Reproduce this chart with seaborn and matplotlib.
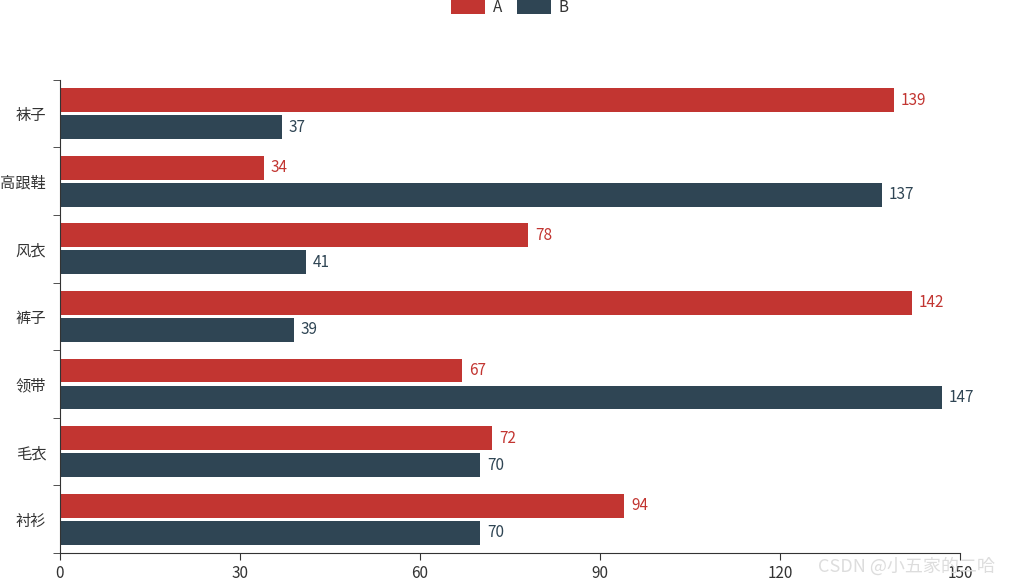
import pandas as pd
import seaborn as sns
import matplotlib.pyplot as plt
from matplotlib.ticker import FixedLocator

plt.rcParams["font.family"] = ["Noto Sans CJK JP", "Noto Sans CJK SC", "Noto Sans CJK TC",
                               "Noto Sans CJK KR", "DejaVu Sans"]

# Data
categories = ["袜子", "高跟鞋", "风衣", "裤子", "领带", "毛衣", "衬衫"]
series_a = [139, 34, 78, 142, 67, 72, 94]
series_b = [37, 137, 41, 39, 147, 70, 70]
colors = {"A": "#c23531", "B": "#2f4554"}

df = pd.DataFrame({
    "cat": categories * 2,
    "value": series_a + series_b,
    "series": ["A"] * len(categories) + ["B"] * len(categories),
})

fig = plt.figure(figsize=(10.1, 5.87), dpi=100)
ax = fig.add_axes([0.0594, 0.058, 0.8911, 0.806])

sns.barplot(data=df, y="cat", x="value", hue="series", order=categories,
            palette=colors, orient="h", width=0.8, gap=0.12, ax=ax,
            saturation=1, legend=True)

for cont, name in zip(ax.containers, ["A", "B"]):
    ax.bar_label(cont, padding=5, color=colors[name], fontsize=11)

ax.set_xlim(0, 150)
ax.set_xticks([0, 30, 60, 90, 120, 150])
ax.set_ylim(len(categories) - 0.5, -0.5)
ax.yaxis.set_minor_locator(FixedLocator([i - 0.5 for i in range(len(categories) + 1)]))
ax.tick_params(axis="y", which="major", length=0, labelsize=11, colors="#333333", pad=10)
ax.tick_params(axis="y", which="minor", length=5, color="#333333")
ax.tick_params(axis="x", length=5, color="#333333", labelsize=11, labelcolor="#333333")
ax.set_xlabel("")
ax.set_ylabel("")
for s in ["top", "right"]:
    ax.spines[s].set_visible(False)
for s in ["left", "bottom"]:
    ax.spines[s].set_color("#333333")

ax.legend(loc="upper center", bbox_to_anchor=(0.5, 1.2), ncol=2, frameon=False,
          fontsize=11, handlelength=2.2, handleheight=1.0, columnspacing=1.0,
          handletextpad=0.5, labelcolor="#333333")

fig.text(0.985, 0.02, "CSDN @小五家的二哈", ha="right", va="bottom",
         fontsize=13, color="#dddddd")

fig.savefig("out.png", dpi=100)
